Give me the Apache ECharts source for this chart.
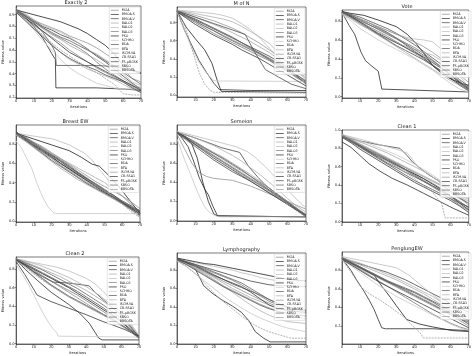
<!DOCTYPE html>
<html><head><meta charset="utf-8">
<script src="https://cdn.jsdelivr.net/npm/echarts@6/dist/echarts.min.js"></script>
<style>html,body{margin:0;padding:0;background:#fff}#c{width:474px;height:356px}</style>
</head><body><div id="c"></div>
<script>
const XS = [0,5,10,15,20,25,30,35,40,45,50,55,60,65,70];
const X_TICKS = [0,10,20,30,40,50,60,70];
const names = ['MGA','BMOA-S','BMOA-V','BALO1','BALO2','BALO3','PSO','SCHHO','BDA','BFA','ISCM-VA','CB-SSA1','FS-pBGSK','SBSO','BBSOFA'];
const titles = ['Exactly 2','M of N','Vote','Breast EW','Semeion','Clean 1','Clean 2','Lymphography','PenglungEW'];
const yTicks1 = [0.2,0.3,0.4,0.5,0.6,0.7,0.8,0.9];
const yTicks2 = [0,0.2,0.4,0.6,0.8];
const yTicks3 = [0,0.2,0.4,0.6,0.8,1.0];
const yTicks4 = [0.2,0.4,0.6,0.8];

const exactly2 = [
 [0.92,0.87,0.81,0.76,0.71,0.66,0.6,0.55,0.5,0.45,0.41,0.37,0.33,0.29,0.25],
 [[0,0.93],[5,0.88],[10,0.8],[15,0.7],[20,0.57],[22,0.52],[22.3,0.28],[45,0.28],[60,0.27],[70,0.26]],
 [0.94,0.9,0.85,0.8,0.77,0.73,0.7,0.66,0.61,0.55,0.5,0.44,0.38,0.32,0.27],
 [0.93,0.88,0.83,0.78,0.73,0.69,0.64,0.6,0.56,0.52,0.47,0.42,0.36,0.31,0.28],
 [0.95,0.91,0.86,0.81,0.78,0.75,0.71,0.66,0.6,0.57,0.52,0.47,0.4,0.33,0.3],
 [0.93,0.89,0.84,0.79,0.74,0.7,0.66,0.62,0.57,0.5,0.44,0.39,0.34,0.3,0.27],
 [0.94,0.92,0.9,0.88,0.86,0.84,0.81,0.78,0.74,0.69,0.64,0.57,0.47,0.43,0.41],
 [0.93,0.86,0.77,0.68,0.6,0.52,0.45,0.4,0.36,0.32,0.3,0.28,0.27,0.27,0.27],
 [[0,0.94],[5,0.89],[10,0.83],[15,0.75],[20,0.64],[22,0.58],[22.5,0.47],[45,0.47],[55,0.46],[62,0.44],[70,0.4]],
 [0.92,0.86,0.79,0.72,0.65,0.58,0.52,0.48,0.44,0.41,0.38,0.35,0.31,0.27,0.24],
 [0.94,0.9,0.85,0.82,0.79,0.76,0.72,0.69,0.66,0.62,0.57,0.52,0.44,0.36,0.33],
 [0.93,0.87,0.82,0.76,0.7,0.64,0.58,0.54,0.5,0.46,0.42,0.38,0.34,0.3,0.26],
 [0.92,0.85,0.78,0.71,0.64,0.58,0.53,0.49,0.46,0.43,0.39,0.36,0.33,0.28,0.24],
 [0.94,0.89,0.84,0.79,0.75,0.71,0.68,0.64,0.6,0.56,0.51,0.46,0.41,0.36,0.31],
 [0.93,0.87,0.8,0.73,0.66,0.6,0.55,0.5,0.45,0.41,0.36,0.31,0.23,0.22,0.22]
];
const mOfN = [
 [0.92,0.87,0.81,0.76,0.71,0.66,0.61,0.56,0.51,0.46,0.41,0.35,0.29,0.22,0.16],
 [[0,0.93],[4,0.72],[8,0.55],[12,0.38],[16,0.25],[20,0.13],[23,0.06],[40,0.05],[70,0.05]],
 [0.93,0.88,0.83,0.78,0.73,0.68,0.63,0.58,0.53,0.48,0.43,0.37,0.3,0.21,0.12],
 [0.93,0.9,0.86,0.82,0.78,0.74,0.69,0.64,0.59,0.53,0.47,0.4,0.33,0.26,0.19],
 [0.94,0.93,0.92,0.91,0.9,0.88,0.85,0.79,0.72,0.63,0.52,0.42,0.31,0.25,0.2],
 [0.92,0.86,0.8,0.74,0.68,0.63,0.58,0.53,0.48,0.43,0.38,0.32,0.26,0.19,0.13],
 [[0,0.93],[5,0.75],[10,0.62],[15,0.5],[19,0.35],[22,0.15],[24,0.04],[70,0.03]],
 [[0,0.92],[4,0.72],[8,0.52],[12,0.36],[16,0.24],[20,0.16],[23,0.155],[70,0.15]],
 [0.93,0.88,0.84,0.79,0.74,0.69,0.64,0.58,0.52,0.46,0.4,0.34,0.28,0.22,0.15],
 [0.93,0.92,0.9,0.88,0.86,0.84,0.81,0.76,0.7,0.64,0.57,0.47,0.36,0.27,0.17],
 [0.93,0.91,0.88,0.85,0.82,0.78,0.74,0.69,0.63,0.57,0.5,0.43,0.36,0.29,0.22],
 [0.92,0.85,0.78,0.72,0.66,0.61,0.56,0.5,0.45,0.4,0.34,0.28,0.22,0.16,0.1],
 [[0,0.93],[10,0.86],[20,0.79],[30,0.72],[37,0.67],[42,0.48],[48,0.28],[55,0.2],[62,0.12],[70,0.07]],
 [0.93,0.87,0.82,0.76,0.71,0.65,0.6,0.55,0.5,0.45,0.39,0.33,0.27,0.2,0.14],
 [[0,0.93],[3,0.82],[6,0.66],[9,0.45],[12,0.25],[15,0.12],[18,0.05],[20,0.03],[70,0.02]]
];
const vote = [
 [0.89,0.84,0.79,0.74,0.69,0.64,0.58,0.52,0.46,0.4,0.34,0.27,0.2,0.14,0.08],
 [[0,0.89],[4,0.75],[7,0.66],[10.5,0.47],[13,0.38],[16,0.33],[20,0.27],[22,0.08],[23,0.06],[70,0.05]],
 [0.9,0.86,0.82,0.78,0.73,0.68,0.62,0.55,0.48,0.41,0.33,0.26,0.19,0.13,0.07],
 [0.88,0.83,0.77,0.71,0.65,0.59,0.53,0.47,0.41,0.35,0.29,0.23,0.17,0.12,0.09],
 [0.9,0.86,0.82,0.78,0.74,0.7,0.66,0.63,0.61,0.6,0.58,0.5,0.36,0.22,0.1],
 [0.9,0.85,0.8,0.76,0.72,0.67,0.62,0.57,0.52,0.46,0.39,0.31,0.22,0.15,0.1],
 [[0,0.9],[5,0.88],[12,0.86],[20,0.81],[30,0.74],[36,0.66],[41,0.56],[46,0.44],[50,0.33],[56,0.23],[61,0.18],[66,0.14],[70,0.12]],
 [0.87,0.8,0.72,0.66,0.6,0.55,0.5,0.45,0.4,0.34,0.28,0.21,0.14,0.08,0.05],
 [0.9,0.87,0.84,0.8,0.76,0.72,0.67,0.61,0.55,0.48,0.41,0.34,0.26,0.18,0.11],
 [0.88,0.82,0.76,0.71,0.66,0.61,0.57,0.53,0.5,0.47,0.44,0.38,0.28,0.17,0.08],
 [0.89,0.86,0.82,0.78,0.74,0.7,0.66,0.62,0.58,0.53,0.47,0.4,0.32,0.23,0.15],
 [0.9,0.85,0.79,0.73,0.67,0.62,0.57,0.52,0.47,0.42,0.36,0.3,0.23,0.15,0.08],
 [0.89,0.84,0.78,0.72,0.66,0.6,0.54,0.49,0.44,0.39,0.33,0.27,0.2,0.12,0.06],
 [0.9,0.86,0.81,0.76,0.71,0.66,0.61,0.56,0.5,0.44,0.38,0.31,0.24,0.16,0.09],
 [0.88,0.83,0.78,0.73,0.68,0.63,0.58,0.53,0.48,0.43,0.37,0.3,0.21,0.12,0.06]
];
const breastEW = [
 [0.9,0.84,0.78,0.71,0.65,0.58,0.52,0.46,0.4,0.35,0.3,0.25,0.2,0.15,0.1],
 [0.92,0.86,0.79,0.73,0.67,0.6,0.54,0.48,0.42,0.36,0.3,0.24,0.18,0.12,0.06],
 [0.92,0.87,0.81,0.75,0.69,0.63,0.57,0.5,0.44,0.38,0.32,0.27,0.21,0.16,0.11],
 [0.89,0.83,0.76,0.69,0.62,0.55,0.49,0.43,0.38,0.33,0.28,0.23,0.18,0.12,0.05],
 [[0,0.91],[10,0.88],[21,0.85],[30,0.79],[39,0.7],[43,0.63],[46,0.56],[50,0.47],[54,0.38],[60,0.26],[65,0.17],[70,0.1]],
 [0.91,0.86,0.81,0.76,0.7,0.64,0.58,0.51,0.45,0.38,0.32,0.26,0.2,0.14,0.09],
 [[0,0.91],[10,0.85],[20,0.79],[30,0.73],[37,0.66],[43,0.59],[47,0.57],[52,0.48],[58,0.36],[64,0.22],[70,0.08]],
 [[0,0.83],[3,0.76],[6,0.65],[9,0.54],[12,0.38],[15,0.25],[18,0.15],[21,0.09],[23,0.08],[70,0.08]],
 [0.92,0.86,0.8,0.74,0.68,0.62,0.56,0.5,0.44,0.39,0.33,0.27,0.2,0.14,0.07],
 [0.9,0.85,0.8,0.75,0.7,0.65,0.6,0.55,0.5,0.45,0.4,0.33,0.26,0.18,0.03],
 [0.91,0.87,0.82,0.77,0.71,0.65,0.59,0.53,0.47,0.41,0.36,0.31,0.26,0.2,0.13],
 [0.92,0.85,0.78,0.72,0.66,0.6,0.54,0.48,0.42,0.36,0.3,0.25,0.19,0.13,0.08],
 [0.9,0.84,0.77,0.7,0.63,0.57,0.51,0.45,0.39,0.34,0.29,0.24,0.19,0.14,0.1],
 [0.91,0.86,0.8,0.74,0.68,0.62,0.55,0.49,0.43,0.37,0.31,0.25,0.2,0.15,0.11],
 [0.89,0.83,0.77,0.71,0.65,0.59,0.53,0.47,0.41,0.36,0.3,0.24,0.18,0.1,0.04]
];
const semeion = [
 [0.92,0.86,0.8,0.74,0.68,0.62,0.56,0.5,0.44,0.38,0.32,0.26,0.2,0.13,0.06],
 [[0,0.92],[3,0.85],[6,0.77],[9,0.62],[12,0.45],[15,0.33],[17,0.27],[19.5,0.15],[22,0.05],[70,0.04]],
 [[0,0.92],[10,0.86],[20,0.79],[24,0.76],[30,0.73],[34,0.71],[39,0.56],[44,0.45],[48,0.37],[55,0.26],[62,0.16],[70,0.06]],
 [0.91,0.86,0.81,0.76,0.71,0.66,0.6,0.54,0.48,0.41,0.34,0.27,0.2,0.13,0.07],
 [[0,0.93],[10,0.88],[20,0.83],[32,0.77],[38,0.72],[43,0.65],[48,0.56],[53,0.46],[58,0.36],[64,0.24],[70,0.13]],
 [0.92,0.87,0.82,0.76,0.7,0.64,0.58,0.52,0.46,0.4,0.34,0.27,0.2,0.13,0.05],
 [[0,0.92],[4,0.88],[8,0.8],[11,0.65],[14,0.4],[17,0.2],[20,0.07],[22,0.05],[70,0.04]],
 [[0,0.85],[4,0.64],[7,0.5],[10,0.35],[13,0.22],[15.5,0.13],[18,0.08],[21,0.05],[23,0.04],[70,0.04]],
 [0.91,0.85,0.79,0.73,0.67,0.61,0.55,0.49,0.43,0.37,0.31,0.24,0.18,0.11,0.05],
 [0.92,0.89,0.86,0.82,0.78,0.73,0.68,0.62,0.55,0.48,0.4,0.32,0.23,0.15,0.09],
 [[0,0.9],[4,0.75],[8,0.6],[12,0.5],[16,0.46],[20,0.44],[25,0.43],[30,0.42],[40,0.36],[50,0.28],[60,0.2],[70,0.12]],
 [0.92,0.86,0.79,0.72,0.65,0.59,0.53,0.47,0.41,0.35,0.29,0.23,0.17,0.11,0.04],
 [0.91,0.84,0.77,0.7,0.63,0.57,0.51,0.46,0.41,0.35,0.29,0.23,0.17,0.11,0.06],
 [0.92,0.87,0.81,0.75,0.7,0.65,0.59,0.53,0.46,0.39,0.32,0.25,0.19,0.12,0.05],
 [0.9,0.84,0.78,0.72,0.66,0.6,0.54,0.48,0.42,0.36,0.3,0.24,0.17,0.1,0.04]
];
const clean1 = [
 [0.94,0.89,0.84,0.79,0.74,0.69,0.64,0.59,0.53,0.47,0.42,0.36,0.31,0.25,0.2],
 [[0,0.87],[5,0.81],[10,0.72],[15,0.63],[21,0.55],[28,0.47],[36,0.4],[45,0.31],[54,0.22],[62,0.14],[70,0.07]],
 [[0,0.93],[10,0.88],[20,0.84],[32,0.8],[36,0.72],[39,0.65],[44,0.57],[48,0.51],[53,0.45],[56,0.4],[60,0.33],[65,0.26],[70,0.2]],
 [0.95,0.91,0.87,0.83,0.79,0.75,0.7,0.65,0.6,0.55,0.49,0.43,0.37,0.3,0.24],
 [[0,0.95],[10,0.9],[21,0.84],[30,0.79],[36,0.75],[40,0.65],[43,0.58],[48,0.52],[54,0.43],[60,0.36],[65,0.3],[70,0.25]],
 [0.93,0.88,0.82,0.76,0.71,0.66,0.61,0.56,0.5,0.44,0.38,0.32,0.25,0.18,0.12],
 [0.94,0.89,0.83,0.77,0.72,0.67,0.62,0.57,0.52,0.47,0.41,0.35,0.28,0.2,0.13],
 [0.95,0.92,0.88,0.85,0.81,0.77,0.73,0.68,0.63,0.57,0.51,0.44,0.36,0.28,0.2],
 [0.93,0.87,0.81,0.75,0.69,0.63,0.57,0.51,0.45,0.4,0.35,0.3,0.25,0.2,0.16],
 [0.94,0.9,0.85,0.8,0.75,0.7,0.65,0.6,0.55,0.5,0.45,0.4,0.34,0.28,0.22],
 [0.95,0.9,0.84,0.79,0.74,0.69,0.64,0.59,0.54,0.49,0.44,0.39,0.33,0.26,0.18],
 [0.92,0.86,0.79,0.73,0.67,0.61,0.55,0.49,0.43,0.38,0.33,0.28,0.23,0.17,0.1],
 [0.94,0.88,0.82,0.76,0.7,0.64,0.59,0.54,0.49,0.44,0.39,0.34,0.28,0.22,0.15],
 [0.93,0.88,0.83,0.78,0.73,0.68,0.63,0.57,0.51,0.45,0.39,0.33,0.27,0.21,0.16],
 [[0,0.94],[10,0.84],[20,0.72],[30,0.6],[40,0.47],[50,0.32],[55,0.2],[57,0.04],[70,0.04]]
];
const clean2 = [
 [0.9,0.85,0.79,0.73,0.67,0.61,0.55,0.49,0.43,0.37,0.31,0.25,0.19,0.13,0.06],
 [[0,0.9],[5,0.8],[12,0.68],[20,0.55],[30,0.42],[36,0.33],[41.6,0.22],[45,0.12],[47,0.06],[49,0.04],[70,0.04]],
 [[0,0.9],[5,0.84],[10,0.77],[15,0.72],[21,0.66],[30,0.65],[41.6,0.62],[45,0.55],[49,0.48],[55,0.38],[60,0.31],[65,0.19],[70,0.07]],
 [0.91,0.88,0.84,0.8,0.76,0.72,0.67,0.62,0.57,0.51,0.45,0.38,0.3,0.2,0.07],
 [[0,0.9],[10,0.87],[23,0.82],[30,0.78],[40,0.7],[45,0.64],[49,0.57],[54,0.47],[58,0.38],[62,0.28],[66,0.18],[70,0.08]],
 [0.89,0.84,0.78,0.72,0.67,0.62,0.57,0.52,0.46,0.4,0.34,0.27,0.2,0.13,0.06],
 [0.9,0.85,0.8,0.75,0.7,0.65,0.6,0.54,0.48,0.42,0.36,0.3,0.23,0.15,0.07],
 [[0,0.85],[3,0.76],[5,0.7],[8,0.6],[12,0.45],[15,0.34],[18,0.24],[21,0.16],[23,0.12],[24,0.08],[25,0.07],[70,0.07]],
 [0.9,0.86,0.81,0.76,0.71,0.66,0.61,0.56,0.5,0.44,0.38,0.31,0.24,0.16,0.08],
 [0.91,0.89,0.86,0.83,0.79,0.75,0.71,0.66,0.61,0.55,0.48,0.41,0.33,0.22,0.09],
 [0.89,0.83,0.76,0.69,0.62,0.56,0.5,0.45,0.4,0.35,0.3,0.25,0.2,0.14,0.07],
 [[0,0.88],[5,0.74],[12,0.52],[20,0.45],[30,0.38],[40,0.31],[49,0.24],[55,0.2],[62,0.15],[70,0.08]],
 [0.9,0.84,0.77,0.7,0.63,0.57,0.51,0.46,0.41,0.36,0.31,0.26,0.2,0.14,0.06],
 [0.91,0.87,0.83,0.79,0.74,0.69,0.64,0.59,0.53,0.47,0.41,0.34,0.27,0.18,0.08],
 [0.88,0.82,0.75,0.68,0.62,0.56,0.51,0.46,0.41,0.36,0.31,0.26,0.2,0.13,0.05]
];
const lympho = [
 [0.92,0.88,0.83,0.78,0.73,0.68,0.63,0.58,0.53,0.48,0.44,0.4,0.37,0.35,0.33],
 [[0,0.92],[5,0.88],[10,0.81],[14.5,0.63],[19,0.55],[24,0.48],[30,0.41],[35,0.34],[39,0.25],[42.5,0.13],[47,0.06],[50.6,0.02],[70,0.02]],
 [0.92,0.89,0.86,0.83,0.8,0.77,0.74,0.71,0.68,0.66,0.64,0.63,0.63,0.62,0.62],
 [0.91,0.87,0.82,0.77,0.72,0.66,0.6,0.55,0.5,0.46,0.42,0.39,0.36,0.33,0.3],
 [0.93,0.9,0.88,0.86,0.84,0.82,0.8,0.77,0.75,0.72,0.7,0.68,0.66,0.65,0.64],
 [0.92,0.89,0.85,0.81,0.77,0.73,0.69,0.64,0.58,0.52,0.46,0.42,0.4,0.38,0.37],
 [0.93,0.91,0.89,0.87,0.86,0.84,0.82,0.8,0.78,0.76,0.74,0.72,0.7,0.69,0.68],
 [0.9,0.84,0.76,0.68,0.6,0.52,0.45,0.39,0.33,0.28,0.24,0.2,0.17,0.15,0.13],
 [0.93,0.89,0.85,0.8,0.75,0.7,0.65,0.61,0.57,0.53,0.48,0.44,0.4,0.38,0.36],
 [0.91,0.87,0.82,0.76,0.7,0.63,0.56,0.49,0.42,0.36,0.31,0.27,0.24,0.23,0.22],
 [0.91,0.86,0.81,0.75,0.69,0.63,0.58,0.53,0.48,0.43,0.39,0.35,0.32,0.29,0.27],
 [0.92,0.88,0.84,0.79,0.74,0.7,0.66,0.62,0.56,0.49,0.42,0.38,0.36,0.35,0.34],
 [0.91,0.86,0.8,0.74,0.68,0.62,0.57,0.52,0.47,0.42,0.38,0.35,0.33,0.31,0.3],
 [0.92,0.89,0.86,0.82,0.78,0.74,0.7,0.66,0.6,0.54,0.48,0.43,0.39,0.37,0.35],
 [[0,0.9],[5,0.84],[10,0.76],[15,0.66],[20,0.55],[25,0.46],[30,0.38],[35,0.3],[40,0.23],[45,0.17],[50,0.13],[55,0.1],[60,0.07],[62,0.06],[70,0.06]]
];
const penglung = [
 [0.93,0.89,0.84,0.79,0.74,0.69,0.64,0.59,0.54,0.49,0.44,0.38,0.32,0.26,0.2],
 [[0,0.93],[5,0.8],[8,0.7],[12,0.58],[15,0.48],[17.7,0.38],[20,0.27],[22,0.18],[24,0.17],[50,0.17],[70,0.15]],
 [0.94,0.9,0.87,0.84,0.81,0.78,0.74,0.7,0.65,0.6,0.55,0.5,0.44,0.39,0.35],
 [0.94,0.9,0.86,0.82,0.78,0.74,0.7,0.65,0.6,0.55,0.49,0.43,0.37,0.31,0.26],
 [[0,0.95],[10,0.91],[20,0.87],[30,0.83],[37,0.75],[43,0.65],[48,0.57],[54,0.48],[60,0.41],[65,0.36],[70,0.32]],
 [0.92,0.87,0.81,0.75,0.69,0.63,0.57,0.51,0.45,0.39,0.33,0.28,0.23,0.19,0.16],
 [[0,0.93],[8,0.85],[17.7,0.75],[22,0.63],[26.7,0.51],[30,0.42],[35.7,0.27],[43,0.22],[50,0.19],[61,0.15],[70,0.14]],
 [0.91,0.85,0.78,0.71,0.64,0.58,0.52,0.47,0.42,0.37,0.32,0.27,0.22,0.18,0.15],
 [0.93,0.88,0.83,0.78,0.73,0.68,0.63,0.58,0.53,0.48,0.43,0.38,0.33,0.28,0.24],
 [0.94,0.91,0.88,0.84,0.8,0.76,0.72,0.67,0.62,0.57,0.52,0.46,0.4,0.34,0.29],
 [0.93,0.87,0.82,0.77,0.72,0.67,0.62,0.57,0.52,0.47,0.42,0.37,0.32,0.28,0.25],
 [0.92,0.86,0.8,0.74,0.68,0.63,0.58,0.53,0.48,0.43,0.38,0.33,0.28,0.23,0.18],
 [0.93,0.88,0.83,0.78,0.73,0.68,0.64,0.6,0.56,0.51,0.46,0.4,0.34,0.28,0.22],
 [0.94,0.89,0.84,0.79,0.74,0.69,0.65,0.61,0.57,0.52,0.47,0.42,0.36,0.3,0.26],
 [[0,0.92],[5,0.78],[10.5,0.62],[15,0.55],[21,0.48],[27,0.4],[34,0.3],[38,0.22],[43,0.13],[45,0.07],[70,0.07]]
];

const colors = ['#8c8c8c','#2b2b2b','#444444','#a8a8a8','#bdbdbd','#7a7a7a','#1e1e1e','#c8c8c8','#555555','#b0b0b0','#969696','#383838','#4d4d4d','#626262','#9e9e9e'];
const dashes = [0,0,0,0,0,0,0,0,0,0,0,0,0,0,1];

const panelData = [exactly2, mOfN, vote, breastEW, semeion, clean1, clean2, lympho, penglung];
// layout: [left, top, width, height, ymin, ymax]
const layout = [
 [11,6,130,92,0.194,0.974, yTicks1],
 [177,7,129,90,-0.022,0.973, yTicks2],
 [342,10,130,88,-0.014,0.916, yTicks2],
 [11,125,129,97,-0.007,0.995, yTicks2],
 [177,125,129,96,-0.003,0.995, yTicks2],
 [342,130,130,92,-0.004,1.0, yTicks3],
 [11,257,128,89,-0.004,0.929, yTicks2],
 [177,253,129,91,-0.003,0.985, yTicks2],
 [342,252,130,97,0.005,1.0, yTicks4]
];

function toPairs(d){
  if (Array.isArray(d[0])) return d;
  return d.map((y,i)=>[XS[i],y]);
}
const FONT = 'DejaVu Sans';
const option = {animation:false, backgroundColor:'#fff', grid:[], xAxis:[], yAxis:[], title:[], legend:[], series:[]};
layout.forEach((L,p)=>{
  const [l,t,w,h,ymin,ymax,yt] = L;
  option.grid.push({left:l, top:t, width:w, height:h, show:true, borderColor:'#222', borderWidth:0.6, containLabel:false});
  option.xAxis.push({type:'value', gridIndex:p, min:0, max:70, interval:10,
    axisLine:{show:true, onZero:false, lineStyle:{color:'#222', width:0.6}},
    axisTick:{show:true, length:1.5, lineStyle:{color:'#222', width:0.5}},
    axisLabel:{fontSize:3.6, margin:1.5, color:'#222', fontFamily:FONT},
    splitLine:{show:false},
    name:'Iterations', nameLocation:'middle', nameGap:7, nameTextStyle:{fontSize:3.6, color:'#222', fontFamily:FONT}});
  option.yAxis.push({type:'value', gridIndex:p, min:ymin, max:ymax,
    axisLine:{show:true, onZero:false, lineStyle:{color:'#222', width:0.6}},
    axisTick:{show:true, length:1.5, customValues:yt, lineStyle:{color:'#222', width:0.5}},
    axisLabel:{fontSize:3.6, margin:1.5, color:'#222', fontFamily:FONT, customValues:yt, formatter:v=>Number(v).toFixed(1)},
    splitLine:{show:false},
    name:'Fitness value', nameLocation:'middle', nameGap:8, nameTextStyle:{fontSize:3.6, color:'#222', fontFamily:FONT}});
  option.title.push({text:titles[p], left:l+w/2, top:t-6, textAlign:'center', padding:0,
    textStyle:{fontSize:5, fontWeight:'normal', color:'#222', fontFamily:FONT}});
  option.legend.push({data:names, orient:'vertical', right:474-(l+w)+1, top:t+1,
    icon:'rect', itemWidth:8, itemHeight:0.7, itemGap:1.0, padding:[1.5,2,1.5,1.5], selectedMode:false,
    borderColor:'#ccc', borderWidth:0.5, borderRadius:1, backgroundColor:'rgba(255,255,255,0.8)',
    textStyle:{fontSize:3.3, lineHeight:3.3, color:'#222', fontFamily:FONT, padding:[0,0,0,-2]}});
  panelData[p].forEach((d,i)=>{
    option.series.push({type:'line', name:names[i], xAxisIndex:p, yAxisIndex:p, data:toPairs(d),
      symbol:'none', showSymbol:false, silent:true, z:2,
      lineStyle:{color:colors[i], width:0.8, type: dashes[i] ? [2,1] : 'solid'},
      itemStyle:{color:colors[i]}});
  });
});
const chart = echarts.init(document.getElementById('c'), null, {renderer:'canvas'});
chart.setOption(option);
</script></body></html>
